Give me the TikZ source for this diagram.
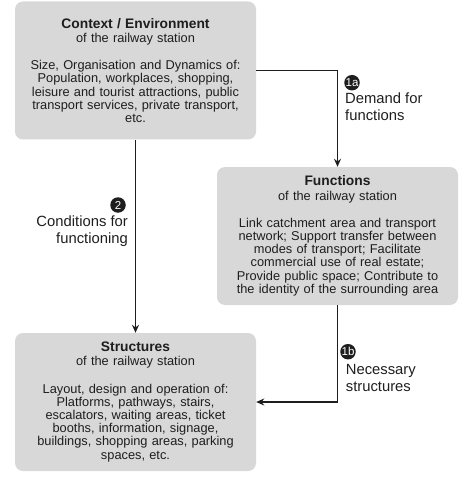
\documentclass[tikz,border=0pt]{standalone}
\usepackage{fontspec}
\setmainfont{Liberation Sans}
\usetikzlibrary{arrows.meta}
\definecolor{boxgray}{HTML}{D8D8D8}
\definecolor{ink}{HTML}{1E1E1E}
\tikzset{
  box/.style={fill=boxgray, rounded corners=8pt, minimum width=241pt, minimum height=138pt,
    text width=237pt, align=center, inner sep=0pt, text=ink,
    font=\fontsize{12.8}{13.2}\selectfont},
  arr/.style={draw=ink, line width=1.5pt, -{Stealth[length=8pt,width=7pt]}},
  badge/.style={circle, fill=ink, text=white, inner sep=0pt, minimum size=15.5pt,
    font=\fontsize{11.5}{12}\selectfont},
  lbl/.style={inner sep=0pt, text=ink, font=\fontsize{14.8}{17}\selectfont},
}
\newcommand{\ttl}[1]{{\fontsize{13.8}{15}\selectfont\bfseries #1}}
\begin{document}
\begin{tikzpicture}[x=1pt,y=-1pt]
\useasboundingbox (0,0) rectangle (474,481);
\node[box] (ctx) at (135.5,70.5) {\ttl{Context / Environment}\\[1pt]
  of the railway station\\[14pt]
  Size, Organisation and Dynamics of:\\
  Population, workplaces, shopping,\\
  leisure and tourist attractions, public\\
  transport services, private transport,\\
  etc.};
\node[box] (fun) at (337.5,236) {\ttl{Functions}\\[1pt]
  of the railway station\\[14pt]
  Link catchment area and transport\\
  network; Support transfer between\\
  modes of transport; Facilitate\\
  commercial use of real estate;\\
  Provide public space; Contribute to\\
  the identity of the surrounding area};
\node[box] (str) at (135.5,402) {\ttl{Structures}\\[1pt]
  of the railway station\\[14pt]
  Layout, design and operation of:\\
  Platforms, pathways, stairs,\\
  escalators, waiting areas, ticket\\
  booths, information, signage,\\
  buildings, shopping areas, parking\\
  spaces, etc.};
\draw[arr] (ctx.east) -| (fun.north);
\draw[arr] (ctx.south) -- (str.north);
\draw[arr] (fun.south) |- (str.east);
\node[badge] (b1a) at (352,82.7) {1a};
\node[lbl, anchor=north west, align=left] (l1a) at (345,93) {Demand for\\functions};
\node[badge] (b2) at (118,205) {2};
\node[lbl, anchor=north east, align=right] (l2) at (128,216) {Conditions for\\functioning};
\node[badge] (b1b) at (348,351.7) {1b};
\node[lbl, anchor=north west, align=left] (l1b) at (345.7,364) {Necessary\\structures};
\end{tikzpicture}
\end{document}
